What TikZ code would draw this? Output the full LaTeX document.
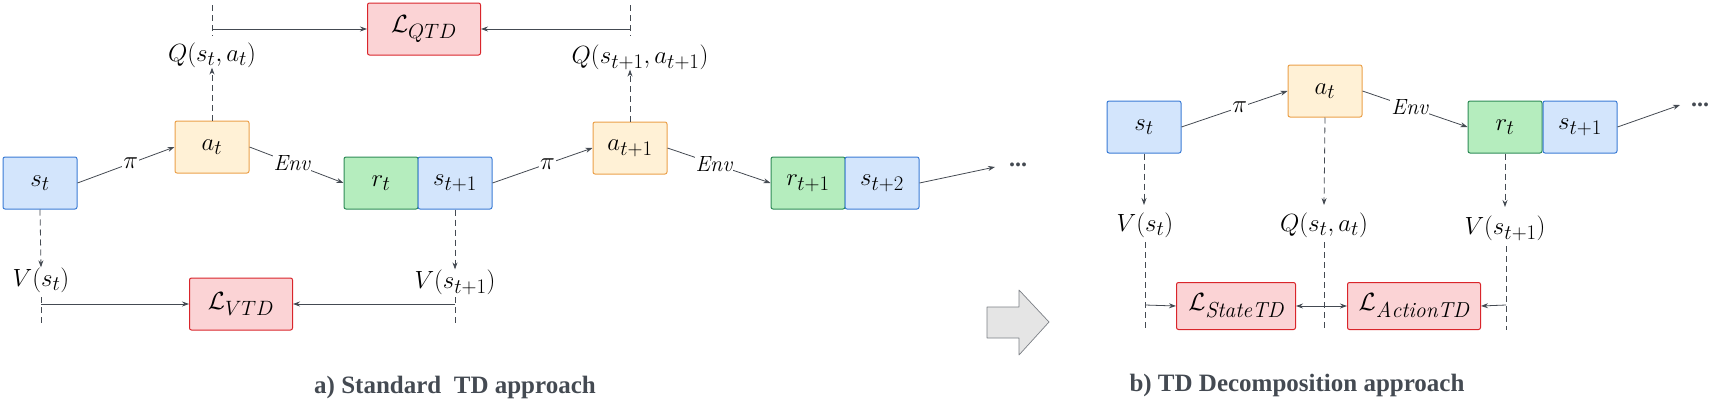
\documentclass[tikz,border=0pt]{standalone}
\usepackage{fontspec}
\newfontfamily\capfont{Liberation Serif}
\usetikzlibrary{arrows.meta}
\definecolor{bfill}{HTML}{D3E5FC}\definecolor{bdraw}{HTML}{3A7BD5}
\definecolor{ofill}{HTML}{FFF1D6}\definecolor{odraw}{HTML}{EBA04A}
\definecolor{gfill}{HTML}{B5EDBE}\definecolor{gdraw}{HTML}{2E8B57}
\definecolor{rfill}{HTML}{FBD3D5}\definecolor{rdraw}{HTML}{D9252B}
\definecolor{ln}{HTML}{444A52}
\tikzset{
 bx/.style={draw, rounded corners=2pt, line width=1pt, minimum width=74pt, minimum height=52pt, inner sep=0pt, font=\fontsize{31}{33}\selectfont},
 sb/.style={bx, fill=bfill, draw=bdraw},
 ab/.style={bx, fill=ofill, draw=odraw},
 rb/.style={bx, fill=gfill, draw=gdraw},
 lb/.style={bx, fill=rfill, draw=rdraw},
 lbl/.style={font=\fontsize{31}{33}\selectfont, inner sep=0pt},
 ar/.style={draw=ln, line width=0.8pt, -{Stealth[length=7pt,width=5pt]}},
 da/.style={ar, dashed, dash pattern=on 6pt off 4pt},
 dl/.style={draw=ln, line width=0.7pt, dash pattern=on 6pt off 4pt},
 el/.style={font=\fontsize{22}{24}\selectfont\itshape, fill=white, inner sep=1pt},
 pl/.style={font=\fontsize{30}{32}\selectfont, fill=white, inner sep=1pt},
 dots/.style={font=\capfont\bfseries\fontsize{24}{24}\selectfont, text=ln, inner sep=0pt},
 captxt/.style={font=\capfont\bfseries\fontsize{25}{27}\selectfont, text=ln}
}
\begin{document}
\begin{tikzpicture}[x=1pt,y=-1pt]
\useasboundingbox (0,0) rectangle (1714,415);
% ---------- panel a
\node[sb] (s1) at (40,183) {$s_t$};
\node[ab] (a1) at (212,147) {$a_t$};
\node[rb] (r1) at (381,183) {$r_t$};
\node[sb] (s2) at (455,183) {$s_{t+1}$};
\node[ab] (a2) at (630,148) {$a_{t+1}$};
\node[rb] (r2) at (808,183) {$r_{t+1}$};
\node[sb] (s3) at (882,183) {$s_{t+2}$};
\node[dots] (d1) at (1018,165) {...};
\node[lb, minimum width=113pt] (lq) at (424,29) {$\mathcal{L}_{QTD}$};
\node[lb, minimum width=103pt] (lv) at (241,304) {$\mathcal{L}_{VTD}$};
\node[lbl] (q1) at (212,55) {$Q(s_t,a_t)$};
\node[lbl] (q2) at (640,57) {$Q(s_{t+1},a_{t+1})$};
\node[lbl] (v1) at (41,280) {$V(s_t)$};
\node[lbl] (v2) at (455,282) {$V(s_{t+1})$};
\coordinate (qt1) at (212,5); \coordinate (qm1) at (212,29); \coordinate (qb1) at (212,36);
\coordinate (qt2) at (630,5); \coordinate (qm2) at (630,29); \coordinate (qb2) at (630,36);
\coordinate (vt1) at (41,297); \coordinate (vm1) at (41,304); \coordinate (vb1) at (41,326);
\coordinate (vt2) at (455,297); \coordinate (vm2) at (455,304); \coordinate (vb2) at (455,326);
\coordinate (dd1) at (995,167);
\draw[ar] (s1.east) -- node[pl,pos=0.55]{$\pi$} (a1.west);
\draw[ar] (a1.east) -- node[el,pos=0.45]{Env} (r1.west);
\draw[ar] (s2.east) -- node[pl,pos=0.55]{$\pi$} (a2.west);
\draw[ar] (a2.east) -- node[el,pos=0.45]{Env} (r2.west);
\draw[ar] (s3.east) -- (dd1);
\draw[da] (a1.north) -- (q1.south);
\draw[da] (a2.north) -- (q2.south -| a2.north);
\draw[dl] (qt1) -- (qb1); \draw[dl] (qt2) -- (qb2);
\draw[ar] (qm1) -- (lq.west); \draw[ar] (qm2) -- (lq.east);
\draw[da] (s1.south) -- (v1.north);
\draw[da] (s2.south) -- (v2.north);
\draw[dl] (vt1) -- (vb1); \draw[dl] (vt2) -- (vb2);
\draw[ar] (vm1) -- (lv.west); \draw[ar] (vm2) -- (lv.east);
\node[captxt] (ca) at (455,387) {a) Standard\ \ TD approach};
% ---------- block arrow
\draw[draw=ln!70, fill=gray!20, line width=0.7pt, line join=round]
  (987,307) -- (1019,307) -- (1019,290) -- (1049,322) -- (1019,355) -- (1019,338) -- (987,338) -- cycle;
% ---------- panel b
\node[sb] (bs1) at (1144,127) {$s_t$};
\node[ab] (ba1) at (1325,91) {$a_t$};
\node[rb] (br1) at (1505,127) {$r_t$};
\node[sb] (bs2) at (1580,127) {$s_{t+1}$};
\node[dots] (d2) at (1700,105) {...};
\coordinate (dd2) at (1680,105);
\node[lbl] (bv1) at (1145,225) {$V(s_t)$};
\node[lbl] (bq1) at (1324,225) {$Q(s_t,a_t)$};
\node[lbl] (bv2) at (1505,228) {$V(s_{t+1})$};
\node[lb, minimum width=119pt, minimum height=47pt] (ls) at (1236,306) {$\mathcal{L}_{\mathit{StateTD}}$};
\node[lb, minimum width=133pt, minimum height=47pt] (la) at (1414,306) {$\mathcal{L}_{\mathit{ActionTD}}$};
\coordinate (e1) at (1144,205); \coordinate (e2) at (1324,205); \coordinate (e3) at (1505,207);
\draw[ar] (bs1.east) -- node[pl,pos=0.55]{$\pi$} (ba1.west);
\draw[ar] (ba1.east) -- node[el,pos=0.45]{Env} (br1.west);
\draw[ar] (bs2.east) -- (dd2);
\draw[da] (bs1.south) -- (e1);
\draw[da] (ba1.south) -- (e2);
\draw[da] (br1.south) -- (e3);
\coordinate (bt1) at (1145,242); \coordinate (bm1) at (1145,305); \coordinate (bb1) at (1145,330);
\coordinate (bt2) at (1324,242); \coordinate (bb2) at (1324,330);
\coordinate (bt3) at (1506,246); \coordinate (bm3) at (1506,305); \coordinate (bb3) at (1506,330);
\draw[dl] (bt1) -- (bb1); \draw[dl] (bt2) -- (bb2); \draw[dl] (bt3) -- (bb3);
\draw[ar] (bm1) -- (ls.west);
\draw[ar, {Stealth[length=7pt,width=5pt]}-{Stealth[length=7pt,width=5pt]}] (ls.east) -- (la.west);
\draw[ar] (bm3) -- (la.east);
\node[captxt] (cb) at (1297,385) {b) TD Decomposition approach};
\end{tikzpicture}
\end{document}
